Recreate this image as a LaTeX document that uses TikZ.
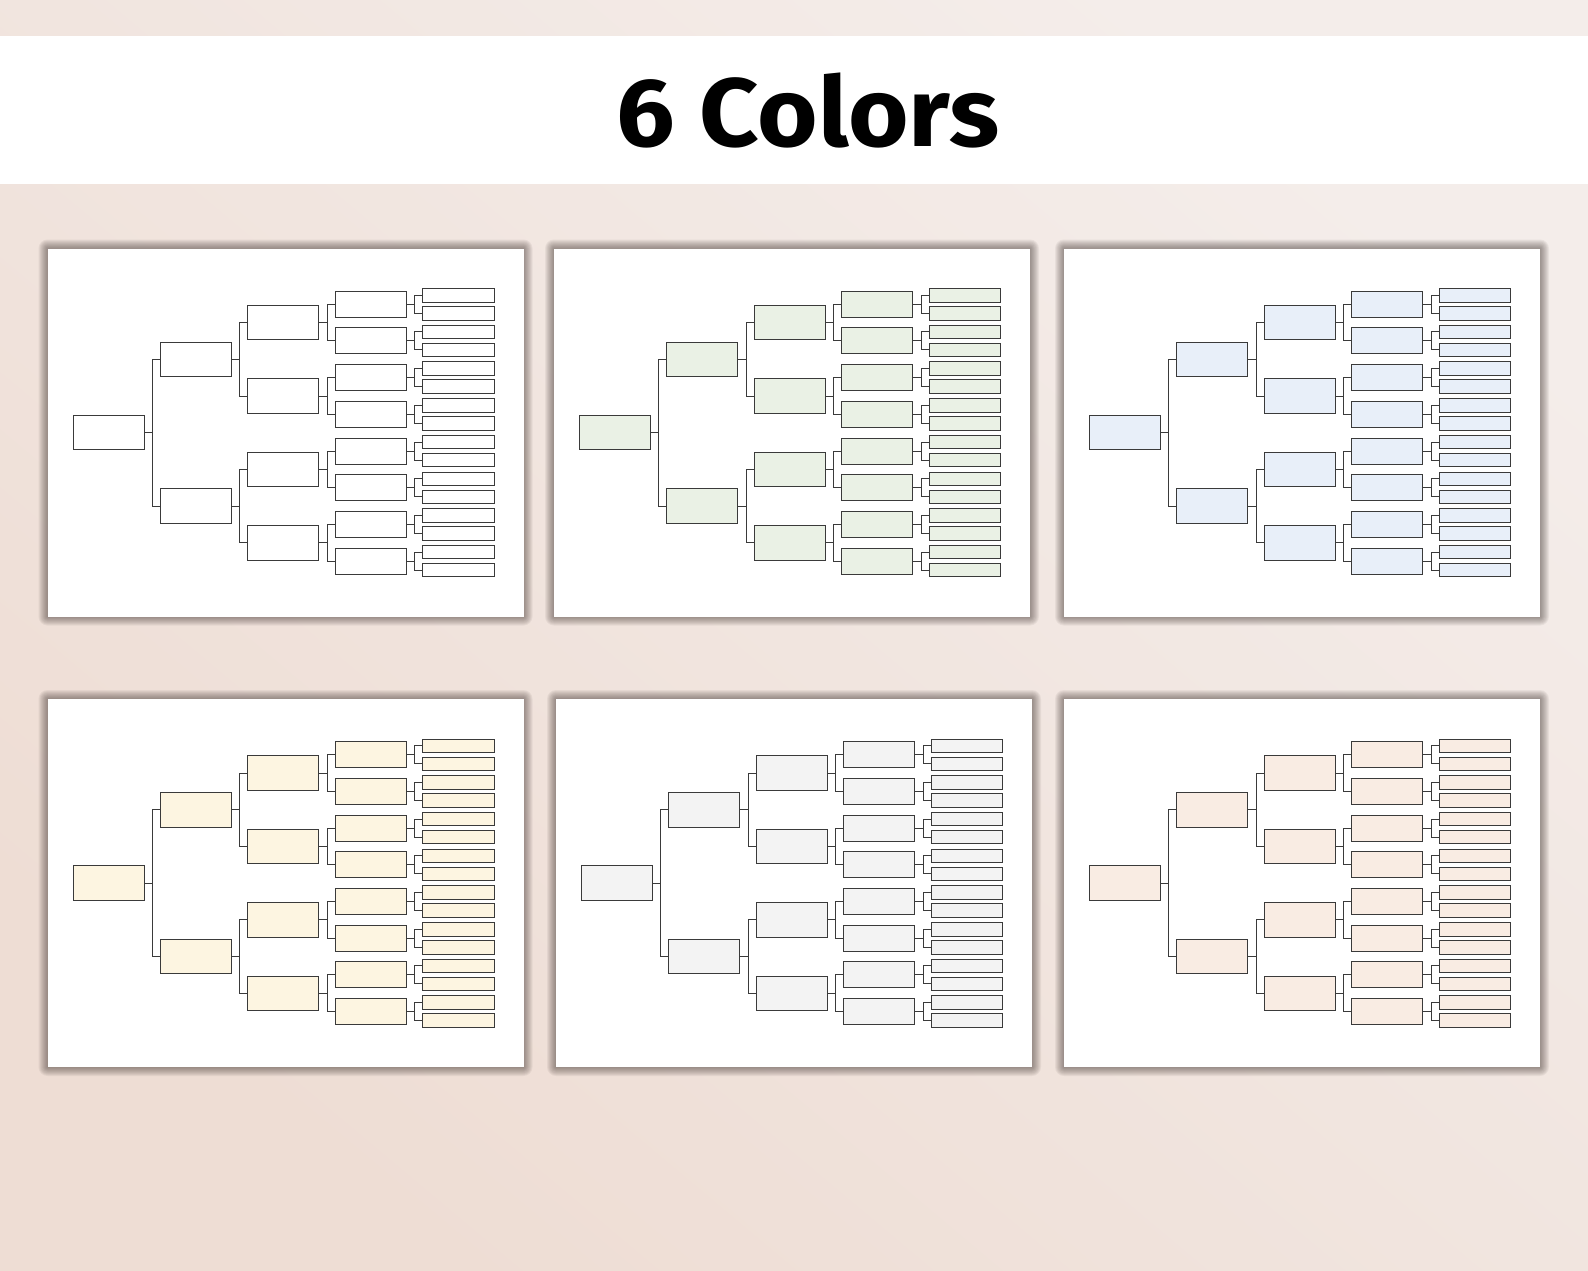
\documentclass[tikz,border=0pt]{standalone}
\usepackage{fontspec}
\newfontfamily\titlefont{Fira Sans}
\definecolor{bgA}{HTML}{EEDDD4}
\definecolor{bgM}{HTML}{F2E6E1}
\definecolor{bgB}{HTML}{F4EDEA}
\definecolor{lineC}{HTML}{3A3A3A}
\definecolor{shadowC}{HTML}{3A2E2A}
\definecolor{fwhite}{HTML}{FFFFFF}
\definecolor{fgreen}{HTML}{EAF1E5}
\definecolor{fblue}{HTML}{E8EFF9}
\definecolor{fyellow}{HTML}{FDF5E1}
\definecolor{fgrey}{HTML}{F3F3F3}
\definecolor{fpeach}{HTML}{F9ECE3}
\tikzset{
  tbox/.style={draw=lineC, line width=0.9pt, inner sep=0pt, outer sep=0pt, minimum width=71pt},
  tsmall/.style={tbox, minimum height=13.5pt, minimum width=71.6pt},
  conn/.style={draw=lineC, line width=0.9pt},
  shadowlayer/.style={fill=shadowC, fill opacity=0.062},
  card/.style={fill=white},
}
\newcommand\famtree[4]{%
\begin{scope}[shift={(#1,#2)}]
  \foreach \l/\n/\hh in {0/1/34.5,1/2/34.5,2/4/34.5,3/8/26}{
    \pgfmathtruncatemacro\lastidx{\n-1}
    \pgfmathsetmacro\spn{8/\n}
    \foreach \i in {0,...,\lastidx}{
      \pgfmathsetmacro\yc{55.7+36.7*(\spn*\i+(\spn-1)/2)}
      \pgfmathsetmacro\xc{25.5+87.4*\l+35.5}
      \node[tbox, minimum height=\hh pt, fill=#3] (#4-\l-\i) at (\xc,\yc) {};
    }
  }
  \foreach \i in {0,...,7}{
    \pgfmathsetmacro\yc{55.7+36.7*\i}
    \pgfmathtruncatemacro\ka{2*\i}
    \pgfmathtruncatemacro\kb{2*\i+1}
    \node[tsmall, fill=#3] (#4-4-\ka) at (411,\yc-9) {};
    \node[tsmall, fill=#3] (#4-4-\kb) at (411,\yc+9) {};
  }
  \foreach \l in {0,1,2,3}{
    \pgfmathtruncatemacro\nl{\l+1}
    \pgfmathtruncatemacro\cnt{2^\l-1}
    \foreach \i in {0,...,\cnt}{
      \pgfmathtruncatemacro\ca{2*\i}
      \pgfmathtruncatemacro\cb{2*\i+1}
      \draw[conn] (#4-\l-\i.east) -- ++(8.2,0);
      \draw[conn] (#4-\nl-\ca.west) -- ++(-8.2,0) |- (#4-\nl-\cb.west);
    }
  }
\end{scope}}
\begin{document}
\begin{tikzpicture}[x=1pt,y=-1pt]
\useasboundingbox (0,0) rectangle (1588,1270);
\shade[bottom color=bgA, middle color=bgM, top color=bgB, shading angle=-40] (0,0) rectangle (1588,1270);
\fill[white] (0,35.7) rectangle (1588,184);
\node[anchor=base, inner sep=0pt, font=\titlefont\bfseries\fontsize{97}{97}\selectfont] (title) at (808,146) {\scalebox{1.07}[1]{6 Colors}};
\foreach \x/\y/\c/\k in {47.5/248.5/fwhite/a, 554/248.5/fgreen/b, 1064/248.5/fblue/c, 47.5/699/fyellow/d, 556/699/fgrey/e, 1064/699/fpeach/f}{
  \foreach \s in {1,...,9}{
    \fill[shadowlayer, rounded corners=\s pt] (\x-\s,\y-\s) rectangle ++(476+2*\s,368+2*\s);
  }
  \fill[card] (\x,\y) rectangle ++(476,368);
  \famtree{\x}{\y}{\c}{\k}
}
\end{tikzpicture}
\end{document}
